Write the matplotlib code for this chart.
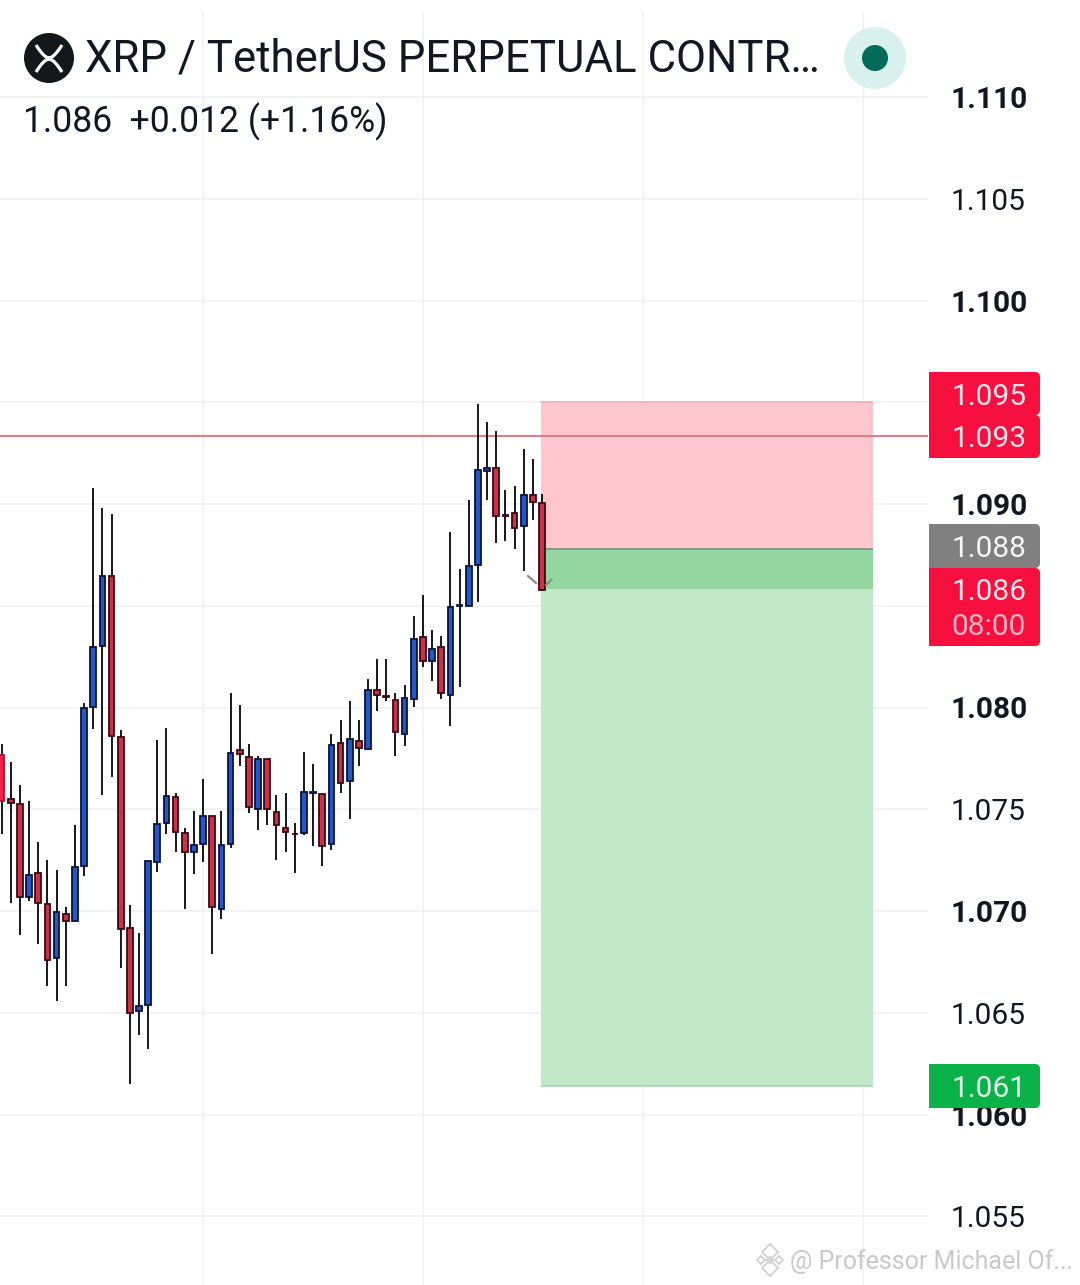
import matplotlib
matplotlib.use("Agg")
import matplotlib.pyplot as plt
from matplotlib.patches import Rectangle, Circle, FancyBboxPatch, Polygon
from matplotlib.path import Path
from matplotlib.patches import PathPatch

plt.rcParams['font.family'] = ['Roboto', 'DejaVu Sans']

title = "XRP / TetherUS PERPETUAL CONTR…"
subtitle = "1.086  +0.012 (+1.16%)"
watermark = "@ Professor Michael Of..."

opens = [1.07768,1.07549,1.07527,1.07067,1.07188,1.07036,1.06769,1.06987,1.06949,1.07221,
         1.08002,1.08302,1.08648,1.07857,1.06918,1.06507,1.06537,1.07241,1.07431,1.07559,
         1.07385,1.07290,1.07329,1.07468,1.07008,1.07328,1.07790,1.07758,1.07501,1.07748,
         1.07488,1.07406,1.07380,1.07385,1.07579,1.07576,1.07328,1.07827,1.07639,1.07837,
         1.07798,1.08087,1.08057,1.08038,1.07870,1.08042,1.08348,1.08229,1.08299,1.08061,
         1.08500,1.08499,1.08700,1.09161,1.09178,1.08946,1.08957,1.08892,1.09046,1.09006]
closes = [1.07541,1.07529,1.07067,1.07178,1.07039,1.06759,1.06997,1.06949,1.07218,1.07999,
          1.08299,1.08648,1.07860,1.06912,1.06499,1.06535,1.07247,1.07429,1.07567,1.07387,
          1.07290,1.07326,1.07468,1.07018,1.07326,1.07778,1.07770,1.07510,1.07748,1.07500,
          1.07421,1.07387,1.07376,1.07586,1.07583,1.07319,1.07817,1.07628,1.07847,1.07800,
          1.08087,1.08060,1.08053,1.07878,1.08048,1.08338,1.08229,1.08289,1.08071,1.08495,
          1.08504,1.08697,1.09169,1.09178,1.08941,1.08942,1.08882,1.09046,1.09008,1.08579]
highs = [1.07821,1.07734,1.07618,1.07541,1.07338,1.07251,1.07201,1.07018,1.07423,1.08021,
         1.09079,1.08980,1.08951,1.07889,1.07028,1.06890,1.07247,1.07839,1.07898,1.07578,
         1.07406,1.07491,1.07649,1.07468,1.07491,1.08070,1.08012,1.07821,1.07762,1.07748,
         1.07570,1.07578,1.07431,1.07780,1.07722,1.07576,1.07868,1.07939,1.08032,1.07939,
         1.08139,1.08237,1.08237,1.08070,1.08109,1.08448,1.08551,1.08379,1.08350,1.08861,
         1.08679,1.09020,1.09491,1.09401,1.09357,1.09069,1.09088,1.09269,1.09221,1.09049]
lows = [1.07378,1.07041,1.06884,1.07051,1.06839,1.06633,1.06559,1.06633,1.06949,1.07173,
        1.07893,1.07572,1.07660,1.06721,1.06151,1.06391,1.06323,1.07192,1.07378,1.07290,
        1.07010,1.07183,1.07241,1.06790,1.06961,1.07311,1.07713,1.07483,1.07398,1.07423,
        1.07253,1.07291,1.07187,1.07372,1.07321,1.07223,1.07301,1.07581,1.07454,1.07714,
        1.07798,1.07984,1.08033,1.07763,1.07812,1.08004,1.08200,1.08132,1.08043,1.07911,
        1.08102,1.08499,1.08520,1.09021,1.08810,1.08820,1.08780,1.08672,1.08923,1.08579]

y_ticks = [1.110,1.105,1.100,1.095,1.090,1.085,1.080,1.075,1.070,1.065,1.060,1.055]
y_labels = ["1.110","1.105","1.100","","1.090","","1.080","1.075","1.070","1.065","1.060","1.055"]
bold_labels = ["1.110","1.100","1.090","1.080","1.070","1.060"]
grid_steps = [22,46,70,94]

stop_price = 1.09500
entry_price = 1.08780
current_price = 1.08582
target_price = 1.06140
alert_price = 1.09335
pos_start = 58.93
pos_end = 95.1

W, H = 1080, 1285
fig = plt.figure(figsize=(W/100, H/100), dpi=100, facecolor='white')
ax = fig.add_axes([0, 0, 928/W, 1])
PX_STEP, PX0 = 9.16, 1.6
ax.set_xlim((0-PX0)/PX_STEP, (928-PX0)/PX_STEP)
ax.set_ylim(1.110-(H-97)/20350, 1.110+97/20350)
for s in ax.spines.values():
    s.set_visible(False)
ax.set_xticks([])
ax.set_yticks(y_ticks)
ax.set_yticklabels(y_labels)
ax.yaxis.tick_right()
ax.tick_params(axis='y', length=0, pad=16.3, labelsize=21.5, labelcolor='#131722')
for lab in ax.get_yticklabels():
    if lab.get_text() in bold_labels:
        lab.set_fontweight('bold')
ax.grid(axis='y', color='#f0f0f1', lw=1.1, zorder=0)
ax.set_axisbelow(True)
ymax_grid = 1.110+(97-12)/20350
ax.vlines(grid_steps, ax.get_ylim()[0], ymax_grid, color='#f0f0f1', lw=1.1, zorder=0)

# position boxes
ax.add_patch(Rectangle((pos_start, entry_price), pos_end-pos_start, stop_price-entry_price,
                       fc='#ffc7cd', ec='none', zorder=1))
ax.add_patch(Rectangle((pos_start, current_price), pos_end-pos_start, entry_price-current_price,
                       fc='#94d69f', ec='none', zorder=1))
ax.add_patch(Rectangle((pos_start, target_price), pos_end-pos_start, current_price-target_price,
                       fc='#c1e8c9', ec='none', zorder=1))
ax.hlines([stop_price], pos_start, pos_end, color='#f3adb5', lw=1.2, zorder=1.1)
ax.hlines([entry_price], pos_start, pos_end, color='#7d8f80', lw=1.2, zorder=1.1)
ax.hlines([target_price], pos_start, pos_end, color='#aad4b3', lw=1.2, zorder=1.1)
ax.axhline(alert_price, color='#de7f88', lw=1.5, zorder=2)

# candles
idx = list(range(len(opens)))
ax.vlines(idx, lows, highs, color='#050505', lw=1.3, zorder=3)
for i, o, c in zip(idx, opens, closes):
    up = c >= o
    fc, ec = ('#2557c6', '#07133f') if up else ('#c8324b', '#3e0710')
    if i == 0:
        fc, ec = '#f0204a', '#b3102f'
    ax.bar(i, abs(c-o), bottom=min(o, c), width=0.62, color=fc, edgecolor=ec, linewidth=1.3, zorder=4)

# overlay in pixel coordinates for chrome
ov = fig.add_axes([0, 0, 1, 1], facecolor='none')
ov.set_xlim(0, W); ov.set_ylim(H, 0); ov.axis('off')

# entry mark
ov.plot([528, 536], [576, 583], color='#8a8a8a', lw=1.6, zorder=2)
ov.plot([546, 551], [585, 580], color='#8a8a8a', lw=1.6, zorder=2)

# logo
ov.add_patch(Circle((49, 58), 25, fc='#14181b', ec='none'))
codes = [Path.MOVETO, Path.CURVE4, Path.CURVE4, Path.CURVE4]
ov.add_patch(PathPatch(Path([(36, 45), (47, 62), (51, 62), (62, 45)], codes), fc='none', ec='white', lw=2.3))
ov.add_patch(PathPatch(Path([(36, 72), (47, 55), (51, 55), (62, 72)], codes), fc='none', ec='white', lw=2.3))
ov.text(85, 60, title, fontsize=31.5, color='#131722', va='center', ha='left')
ov.text(23, 122, subtitle, fontsize=25.6, color='#131722', va='center', ha='left')

# status dot
ov.add_patch(Circle((875, 58), 31, fc='#d9f1ee', ec='none'))
ov.add_patch(Circle((875, 58), 13, fc='#006b58', ec='none'))

# price labels
def tag(top, bottom, color):
    ov.add_patch(FancyBboxPatch((935, top+5), 100, bottom-top-10,
                                boxstyle="round,pad=5,rounding_size=5", fc=color, ec='none', zorder=5))
    ov.add_patch(Rectangle((929, top), 30, bottom-top, fc=color, ec='none', zorder=5))

tag(372, 415, '#f7103f')
tag(415, 458, '#f7103f')
tag(524, 568, '#808080')
tag(568, 646, '#f7103f')
tag(1064, 1108, '#0bb24a')
for y, s, col in [(397, "1.095", '#ffe6ea'), (439, "1.093", '#ffe6ea'), (549, "1.088", '#f5f5f5'),
                  (592, "1.086", '#ffe6ea'), (627, "08:00", '#ffb4c2'), (1089, "1.061", '#e6f7ec')]:
    ov.text(989, y, s, fontsize=21.5, color=col, ha='center', va='center', zorder=6)

# watermark
ov.text(790, 1262, watermark, fontsize=18, color='#c9c9c9', ha='left', va='center', zorder=6)
for cx, cy, r in [(770, 1252, 8), (770, 1268, 8), (761, 1260, 4), (779, 1260, 4), (770, 1260, 3.5)]:
    ov.add_patch(Polygon([(cx, cy-r), (cx+r, cy), (cx, cy+r), (cx-r, cy)], closed=True,
                         fc='none', ec='#d4d4d4', lw=1.4, zorder=6))

fig.savefig('out.png', dpi=100, facecolor='white')
